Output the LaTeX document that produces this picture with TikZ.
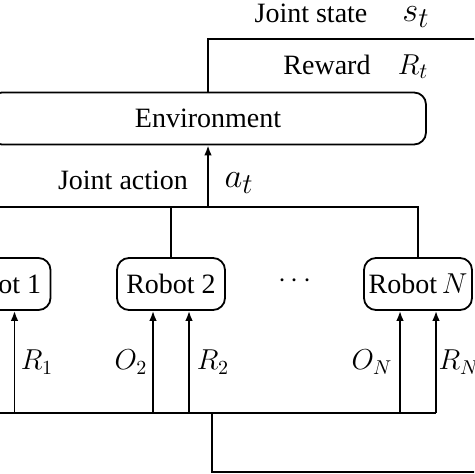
\documentclass[tikz,border=0pt]{standalone}
\usepackage{fontspec}
\setmainfont{Liberation Serif}
\usetikzlibrary{arrows.meta,positioning}

\begin{document}
\begin{tikzpicture}[x=0.5pt,y=-0.5pt,line width=0.9pt,
    box/.style={draw,rounded corners=6pt,minimum width=54pt,minimum height=26pt,inner xsep=2pt,font=\fontsize{14}{16}\selectfont},
    txt/.style={inner sep=0pt,font=\fontsize{14}{16}\selectfont},
    big/.style={inner sep=0pt,font=\fontsize{19}{21}\selectfont},
    mid/.style={inner sep=0pt,font=\fontsize{15}{18}\selectfont},
    >={Latex[length=5pt,width=3.8pt]}]
    \clip (0,0) rectangle (474,474);
    %nodes
    \node[box,minimum width=218pt] (env) at (208,118.5) {Environment};
    \node[box] (r1) at (-3.5,284) {Robot 1};
    \node[box] (r2) at (171,284) {Robot 2};
    \node[box] (rN) at (418,284) {Robot\,$N$};
    \node[txt] (dots) at (295,281) {$\cdots$};
    %labels
    \node[txt] (state) at (311,13) {Joint state};
    \node[big] (st) at (416,17) {$s_t$};
    \node[txt] (rew) at (327,65) {Reward};
    \node[mid] (Rt) at (413,67) {$R_t$};
    \node[txt] (act) at (123,180) {Joint action};
    \node[big] (at) at (239,183) {$a_t$};
    \node[txt] (R1) at (37,362) {$R_1$};
    \node[txt] (O2) at (131,362) {$O_2$};
    \node[txt] (R2) at (213,362) {$R_2$};
    \node[txt] (ON) at (372,362) {$O_N$};
    \node[txt] (RN) at (459,362) {$R_N$};
    %coordinates
    \coordinate (out) at (480,39);
    \coordinate (bus) at (208,207);
    \coordinate (obs) at (212,413);
    \coordinate (back) at (480,472);
    %edges
    \draw (env.north) |- (out);
    \draw (r1.north) |- (bus) -| (rN.north);
    \draw (r2.north) -- (r2.north |- bus);
    \draw[->] (bus) -- (env.south);
    \draw ([xshift=-9pt]r1.south |- obs) -- ([xshift=9pt]rN.south |- obs);
    \draw (obs) |- (back);
    \draw[->] ([xshift=9pt]r1.south |- obs) -- ([xshift=9pt]r1.south);
    \draw[->] ([xshift=-9pt]r2.south |- obs) -- ([xshift=-9pt]r2.south);
    \draw[->] ([xshift=9pt]r2.south |- obs) -- ([xshift=9pt]r2.south);
    \draw[->] ([xshift=-9pt]rN.south |- obs) -- ([xshift=-9pt]rN.south);
    \draw[->] ([xshift=9pt]rN.south |- obs) -- ([xshift=9pt]rN.south);
\end{tikzpicture}
\end{document}
